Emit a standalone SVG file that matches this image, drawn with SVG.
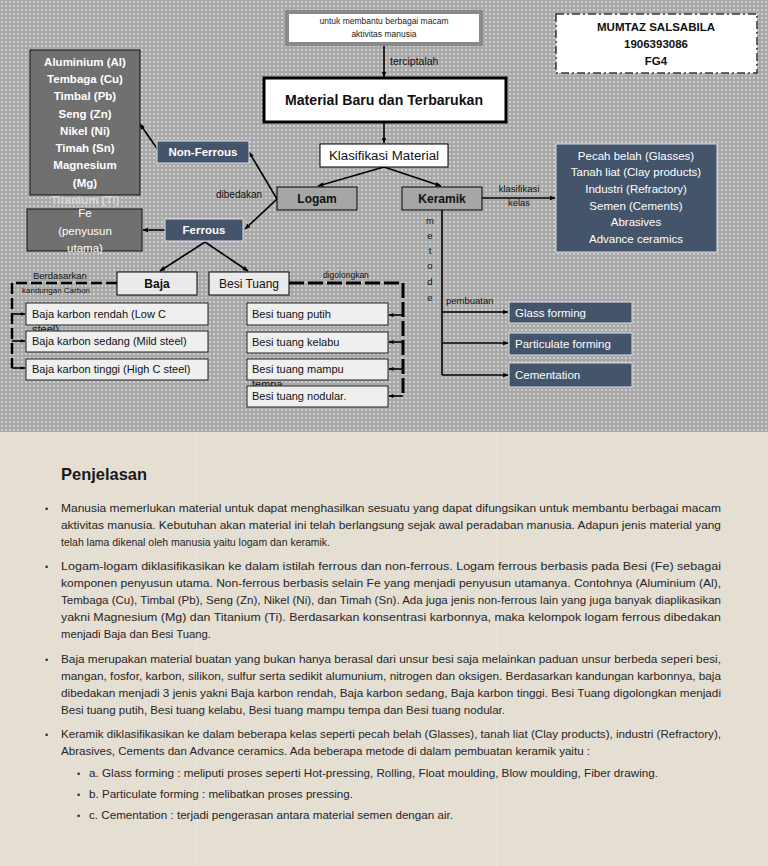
<svg xmlns="http://www.w3.org/2000/svg" width="768" height="866" viewBox="0 0 768 866">
<defs>
<pattern id="grid" width="4" height="4" patternUnits="userSpaceOnUse">
<rect width="4" height="4" fill="#a8a8a8"/>
<rect x="1" y="1" width="2" height="2" fill="#cdcdcd"/>
</pattern>
<marker id="ah" viewBox="0 0 10 10" refX="9" refY="5" markerWidth="6" markerHeight="6" orient="auto" markerUnits="userSpaceOnUse">
<path d="M0,1 L10,5 L0,9 z" fill="#000"/>
</marker>
<marker id="ahs" viewBox="0 0 10 10" refX="9" refY="5" markerWidth="5" markerHeight="5" orient="auto" markerUnits="userSpaceOnUse">
<path d="M0,1 L10,5 L0,9 z" fill="#000"/>
</marker>
</defs>
<style>
text{font-family:"Liberation Sans",Arial,sans-serif}
.ln{stroke:#000;stroke-width:1.6;fill:none}
.dash{stroke:#000;stroke-width:2.5;fill:none;stroke-dasharray:11 4}
.dark{fill:#44546a;stroke:#d9dde3;stroke-width:1}
.wt{fill:#fff;font-size:11.5px;font-weight:bold}
.lbl{fill:#111;font-size:9.5px}
.gbox{fill:#a6a6a6;stroke:#000;stroke-width:1}
.lbox{fill:#efefef;stroke:#222;stroke-width:1}
.lt{fill:#111;font-size:11px}
.body{fill:#262626;font-size:11px}
.bul{fill:#262626;font-size:9px}
</style>
<rect x="0" y="0" width="768" height="432" fill="url(#grid)"/>
<rect x="0" y="432" width="768" height="434" fill="#e4ded3"/>
<line x1="197" y1="432" x2="197" y2="866" stroke="#ebe7df" stroke-width="1"/>
<line x1="497" y1="432" x2="497" y2="866" stroke="#ebe7df" stroke-width="1"/>

<g id="connectors">
<line class="ln" x1="384" y1="46" x2="384" y2="77" marker-end="url(#ah)"/>
<line class="ln" x1="384" y1="123" x2="384" y2="143" marker-end="url(#ah)"/>
<line class="ln" x1="384" y1="167" x2="318" y2="186" marker-end="url(#ah)"/>
<line class="ln" x1="384" y1="167" x2="441" y2="186" marker-end="url(#ah)"/>
<line class="ln" x1="277" y1="199" x2="249" y2="152" marker-end="url(#ah)"/>
<line class="ln" x1="277" y1="199" x2="245" y2="229" marker-end="url(#ah)"/>
<line class="ln" x1="158" y1="150" x2="140" y2="124" marker-end="url(#ah)"/>
<line class="ln" x1="165" y1="230" x2="143" y2="230" marker-end="url(#ah)"/>
<line class="ln" x1="205" y1="242" x2="160" y2="271" marker-end="url(#ah)"/>
<line class="ln" x1="205" y1="242" x2="248" y2="271" marker-end="url(#ah)"/>
<line class="ln" x1="482" y1="198" x2="555" y2="198" marker-end="url(#ah)"/>
<polyline class="ln" points="442,210 442,375"/>
<line class="ln" x1="442" y1="312" x2="508" y2="312" marker-end="url(#ah)"/>
<line class="ln" x1="442" y1="343" x2="508" y2="343" marker-end="url(#ah)"/>
<line class="ln" x1="442" y1="375" x2="508" y2="375" marker-end="url(#ah)"/>
<polyline class="dash" points="117,283 12,283 12,368"/>
<line class="ln" x1="12" y1="314" x2="25" y2="314" marker-end="url(#ahs)"/>
<line class="ln" x1="12" y1="341" x2="25" y2="341" marker-end="url(#ahs)"/>
<line class="ln" x1="12" y1="368" x2="25" y2="368" marker-end="url(#ahs)"/>
<polyline class="dash" style="stroke-width:3;stroke-dasharray:15 4" points="289,283 403,283 403,396"/>
<line class="ln" x1="403" y1="315" x2="389" y2="315" marker-end="url(#ahs)"/>
<line class="ln" x1="403" y1="342" x2="389" y2="342" marker-end="url(#ahs)"/>
<line class="ln" x1="403" y1="369" x2="389" y2="369" marker-end="url(#ahs)"/>
<line class="ln" x1="403" y1="396" x2="389" y2="396" marker-end="url(#ahs)"/>
<text class="lbl" x="390" y="65" style="font-size:10.5px">terciptalah</text>
<text class="lbl" x="216" y="198" style="font-size:10px">dibedakan</text>
<text class="lbl" x="519" y="192" text-anchor="middle">klasifikasi</text>
<text class="lbl" x="519" y="206" text-anchor="middle">kelas</text>
<text class="lbl" x="430" y="224" text-anchor="middle">m</text>
<text class="lbl" x="430" y="239" text-anchor="middle">e</text>
<text class="lbl" x="430" y="254" text-anchor="middle">t</text>
<text class="lbl" x="430" y="269" text-anchor="middle">o</text>
<text class="lbl" x="430" y="285" text-anchor="middle">d</text>
<text class="lbl" x="430" y="301" text-anchor="middle">e</text>
<text class="lbl" x="446" y="304">pembuatan</text>
<text class="lbl" x="33" y="279">Berdasarkan</text>
<text class="lbl" x="22" y="293" style="font-size:8px">kandungan Carbon</text>
<text class="lbl" x="323" y="278" style="font-size:8.5px">digolongkan</text>
</g>

<g id="top">
<rect x="287" y="12" width="194" height="32" fill="#fff" stroke="#8a8a8a" stroke-width="4"/>
<text x="384" y="24" text-anchor="middle" style="font-size:8.5px;fill:#222">untuk membantu berbagai macam</text>
<text x="384" y="37" text-anchor="middle" style="font-size:8.5px;fill:#222">aktivitas manusia</text>
</g>
<g id="material">
<rect x="264" y="78" width="242" height="44" fill="#fff" stroke="#000" stroke-width="3"/>
<text x="384" y="105" text-anchor="middle" textLength="198" lengthAdjust="spacingAndGlyphs" style="font-size:14px;font-weight:bold;fill:#111">Material Baru dan Terbarukan</text>
</g>
<g id="klasifikasi">
<rect x="320" y="144" width="128" height="23" fill="#fff" stroke="#000" stroke-width="1"/>
<text x="384" y="160" text-anchor="middle" textLength="110" lengthAdjust="spacingAndGlyphs" style="font-size:12px;fill:#111">Klasifikasi Material</text>
</g>
<g id="logam">
<rect class="gbox" x="277" y="187" width="80" height="23"/>
<text x="317" y="203" text-anchor="middle" style="font-size:12px;font-weight:bold;fill:#111">Logam</text>
</g>
<g id="keramik">
<rect class="gbox" x="402" y="187" width="80" height="23"/>
<text x="442" y="203" text-anchor="middle" style="font-size:12px;font-weight:bold;fill:#111">Keramik</text>
</g>
<g id="nonferrous">
<rect class="dark" x="157" y="141" width="92" height="22"/>
<text class="wt" x="203" y="156" text-anchor="middle">Non-Ferrous</text>
</g>
<g id="ferrous">
<rect class="dark" x="165" y="219" width="78" height="22"/>
<text class="wt" x="204" y="234" text-anchor="middle">Ferrous</text>
</g>
<g id="nonferrous-list">
<rect x="30" y="50" width="110" height="145" fill="#707070" stroke="#111" stroke-width="1"/>
<g class="wt" text-anchor="middle" style="font-size:11.5px">
<text x="85" y="66">Aluminium (Al)</text>
<text x="85" y="83">Tembaga  (Cu)</text>
<text x="85" y="100">Timbal (Pb)</text>
<text x="85" y="118">Seng (Zn)</text>
<text x="85" y="135">Nikel (Ni)</text>
<text x="85" y="152">Timah (Sn)</text>
<text x="85" y="169">Magnesium</text>
<text x="85" y="187">(Mg)</text>
<text x="85" y="204" style="fill:#d8d8d8">Titanium (Ti)</text>
</g>
</g>
<g id="fe">
<rect x="27" y="209" width="115" height="42" fill="#707070" stroke="#111" stroke-width="1"/>
<g class="wt" text-anchor="middle" style="font-weight:normal;font-size:11.5px">
<text x="85" y="217">Fe</text>
<text x="85" y="235">(penyusun</text>
<text x="85" y="252">utama)</text>
</g>
</g>
<g id="baja">
<rect x="117" y="272" width="80" height="23" fill="#eaeaea" stroke="#000" stroke-width="1"/>
<text x="157" y="288" text-anchor="middle" style="font-size:12px;font-weight:bold;fill:#111">Baja</text>
</g>
<g id="besituang">
<rect x="209" y="272" width="80" height="23" fill="#eaeaea" stroke="#000" stroke-width="1"/>
<text x="249" y="288" text-anchor="middle" style="font-size:12px;fill:#111">Besi Tuang</text>
</g>
<g id="baja1">
<rect class="lbox" x="26" y="303" width="182" height="22"/>
<text class="lt" x="32" y="318">Baja karbon rendah (Low C</text>
<text class="lt" x="32" y="333">steel)</text>
</g>
<g id="baja2">
<rect class="lbox" x="26" y="331" width="182" height="21"/>
<text class="lt" x="32" y="345">Baja karbon sedang (Mild steel)</text>
</g>
<g id="baja3">
<rect class="lbox" x="26" y="359" width="182" height="21"/>
<text class="lt" x="32" y="373">Baja karbon tinggi (High C steel)</text>
</g>
<g id="besi1">
<rect class="lbox" x="247" y="303" width="141" height="22"/>
<text class="lt" x="252" y="318">Besi tuang putih</text>
</g>
<g id="besi2">
<rect class="lbox" x="247" y="332" width="141" height="21"/>
<text class="lt" x="252" y="346">Besi tuang kelabu</text>
</g>
<g id="besi3">
<rect class="lbox" x="247" y="359" width="141" height="21"/>
<text class="lt" x="252" y="373">Besi tuang mampu</text>
<text class="lt" x="252" y="388">tempa</text>
</g>
<g id="besi4">
<rect class="lbox" x="247" y="386" width="141" height="21"/>
<text class="lt" x="252" y="400">Besi tuang nodular.</text>
</g>
<g id="kelas">
<rect class="dark" x="556" y="144" width="161" height="108"/>
<g class="wt" text-anchor="middle" style="font-weight:normal;font-size:11.5px">
<text x="636" y="160">Pecah belah (Glasses)</text>
<text x="636" y="176">Tanah liat (Clay products)</text>
<text x="636" y="193">Industri (Refractory)</text>
<text x="636" y="210">Semen (Cements)</text>
<text x="636" y="226">Abrasives</text>
<text x="636" y="243">Advance ceramics</text>
</g>
</g>
<g id="glass">
<rect class="dark" x="509" y="302" width="123" height="21"/>
<text class="wt" x="515" y="317" style="font-weight:normal">Glass forming</text>
</g>
<g id="particulate">
<rect class="dark" x="509" y="333" width="123" height="22"/>
<text class="wt" x="515" y="348" style="font-weight:normal">Particulate forming</text>
</g>
<g id="cementation">
<rect class="dark" x="509" y="363" width="123" height="24"/>
<text class="wt" x="515" y="379" style="font-weight:normal">Cementation</text>
</g>
<g id="author">
<rect x="556" y="14" width="201" height="59" fill="#fff" stroke="#333" stroke-width="1.5" stroke-dasharray="8 3 2 3"/>
<g text-anchor="middle" style="font-size:11.5px;font-weight:bold;fill:#111">
<text x="656" y="31">MUMTAZ SALSABILA</text>
<text x="656" y="48">1906393086</text>
<text x="656" y="65">FG4</text>
</g>
</g>

<g id="penjelasan">
<text x="61" y="480" textLength="86" lengthAdjust="spacingAndGlyphs" style="font-size:17px;font-weight:bold;fill:#1a1a1a">Penjelasan</text>
<g class="bul">
<text x="45" y="512">•</text><text x="45" y="570">•</text><text x="45" y="663">•</text><text x="45" y="738">•</text>
<text x="77" y="777">•</text><text x="77" y="798">•</text><text x="77" y="819">•</text>
</g>
<g class="body">
<text x="61" y="512" textLength="660" lengthAdjust="spacingAndGlyphs">Manusia memerlukan material untuk dapat menghasilkan sesuatu yang dapat difungsikan untuk membantu berbagai macam</text>
<text x="61" y="529" textLength="660" lengthAdjust="spacingAndGlyphs">aktivitas manusia. Kebutuhan akan material ini telah berlangsung sejak awal peradaban manusia. Adapun jenis material yang</text>
<text x="61" y="546" textLength="269" lengthAdjust="spacingAndGlyphs">telah lama dikenal oleh manusia yaitu logam dan keramik.</text>
<text x="61" y="570" textLength="660" lengthAdjust="spacingAndGlyphs">Logam-logam diklasifikasikan ke dalam istilah ferrous dan non-ferrous. Logam ferrous berbasis pada Besi (Fe) sebagai</text>
<text x="61" y="587" textLength="660" lengthAdjust="spacingAndGlyphs">komponen penyusun utama. Non-ferrous berbasis selain Fe yang menjadi penyusun utamanya. Contohnya (Aluminium (Al),</text>
<text x="61" y="604" textLength="660" lengthAdjust="spacingAndGlyphs">Tembaga (Cu), Timbal (Pb), Seng (Zn), Nikel (Ni), dan Timah (Sn). Ada juga jenis non-ferrous lain yang juga banyak diaplikasikan</text>
<text x="61" y="621" textLength="660" lengthAdjust="spacingAndGlyphs">yakni Magnesium (Mg) dan Titanium (Ti). Berdasarkan konsentrasi karbonnya, maka kelompok logam ferrous dibedakan</text>
<text x="61" y="638" textLength="150" lengthAdjust="spacingAndGlyphs">menjadi Baja dan Besi Tuang.</text>
<text x="61" y="663" textLength="660" lengthAdjust="spacingAndGlyphs">Baja merupakan material buatan yang bukan hanya berasal dari unsur besi saja melainkan paduan unsur berbeda seperi besi,</text>
<text x="61" y="680" textLength="660" lengthAdjust="spacingAndGlyphs">mangan, fosfor, karbon, silikon, sulfur serta sedikit alumunium, nitrogen dan oksigen. Berdasarkan kandungan karbonnya, baja</text>
<text x="61" y="697" textLength="660" lengthAdjust="spacingAndGlyphs">dibedakan menjadi 3 jenis yakni Baja karbon rendah, Baja karbon sedang, Baja karbon tinggi. Besi Tuang digolongkan menjadi</text>
<text x="61" y="714" textLength="444" lengthAdjust="spacingAndGlyphs">Besi tuang putih, Besi tuang kelabu, Besi tuang mampu tempa dan Besi tuang nodular.</text>
<text x="61" y="738" textLength="660" lengthAdjust="spacingAndGlyphs">Keramik diklasifikasikan ke dalam beberapa kelas seperti pecah belah (Glasses), tanah liat (Clay products), industri (Refractory),</text>
<text x="61" y="755" textLength="529" lengthAdjust="spacingAndGlyphs">Abrasives, Cements dan Advance ceramics. Ada beberapa metode di dalam pembuatan keramik yaitu :</text>
<text x="89" y="777" textLength="569" lengthAdjust="spacingAndGlyphs">a. Glass forming : meliputi proses seperti Hot-pressing, Rolling, Float moulding, Blow moulding, Fiber drawing.</text>
<text x="89" y="798" textLength="264" lengthAdjust="spacingAndGlyphs">b. Particulate forming : melibatkan proses pressing.</text>
<text x="89" y="819" textLength="364" lengthAdjust="spacingAndGlyphs">c. Cementation : terjadi pengerasan antara material semen dengan air.</text>
</g>
</g>
</svg>
